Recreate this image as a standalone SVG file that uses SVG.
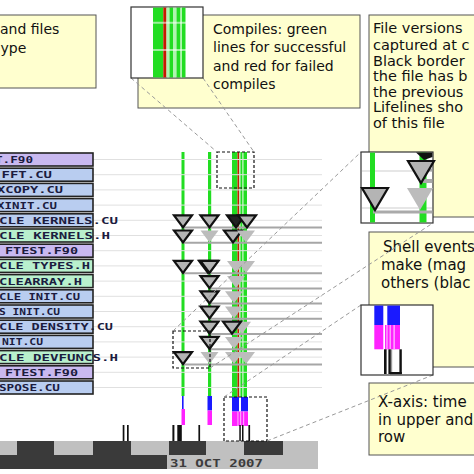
<svg xmlns="http://www.w3.org/2000/svg" width="474" height="474" viewBox="0 0 474 474">
<style>
.call{fill:#ffffcf;stroke:#555;stroke-width:1}
.ct{font-family:"DejaVu Sans",sans-serif;font-size:14px;fill:#111}
.ct2{font-family:"DejaVu Sans",sans-serif;font-size:15px;fill:#111}
.ct3{font-family:"DejaVu Sans",sans-serif;font-size:14.5px;fill:#111}
.lbl{stroke:#222;stroke-width:1.6}
.pu{fill:#c9b9f0}.bl{fill:#b9cdf0}.gr{fill:#b9f0cd}
.lt{font-family:"DejaVu Sans Mono",monospace;font-weight:bold;font-size:9.5px;fill:#1c1c40}
.faint{stroke:#e0e0e0;stroke-width:1}
.gl{stroke:#a6a6a6;stroke-width:2}
.to{fill:#b4b4b4;stroke:#111;stroke-width:2.2;stroke-linejoin:miter}
.tg{fill:#bcbcbc}
.tb{fill:#222;stroke:#111;stroke-width:2.2}
.dr{fill:none;stroke:#111;stroke-width:1.2;stroke-dasharray:3 2}
.dc{stroke:#999;stroke-width:1;stroke-dasharray:4 3;fill:none}
.g{fill:#22dd22}.r{fill:#c41a00}.pg{fill:#b0f4b0}
.b{fill:#1a1aff}.m{fill:#ff22ff}.pm{fill:#ff9cff}.k{fill:#111}
.inset{fill:#fff;stroke:#333;stroke-width:1.2}
</style>
<defs>
<path id="tri" d="M-9,-5 L9,-5 L0,7 Z"/>
<path id="triL" d="M-13,-11 L13,-11 L0,11 Z"/>
</defs>
<rect width="474" height="474" fill="#fff"/>

<g id="lifelines">
<rect class="g" x="181.5" y="152" width="3" height="244"/>
<rect class="g" x="208" y="152" width="3.2" height="244"/>
<rect class="g" x="232" y="152" width="5.5" height="245"/>
<rect class="r" x="237.5" y="152" width="1.8" height="245"/>
<rect class="pg" x="239.3" y="152" width="1.2" height="245"/>
<rect class="g" x="240.5" y="152" width="2" height="245"/>
<rect class="pg" x="242.5" y="152" width="1" height="245"/>
<rect class="g" x="243.5" y="152" width="3.5" height="245"/>
</g>

<g id="rowlines">
<line class="faint" x1="93" y1="159.5" x2="322" y2="159.5"/>
<line class="faint" x1="93" y1="174.7" x2="322" y2="174.7"/>
<line class="faint" x1="93" y1="189.9" x2="322" y2="189.9"/>
<line class="faint" x1="93" y1="205.1" x2="322" y2="205.1"/>
<line class="faint" x1="93" y1="220.3" x2="322" y2="220.3"/>
<line class="faint" x1="93" y1="235.5" x2="322" y2="235.5"/>
<line class="faint" x1="93" y1="250.7" x2="322" y2="250.7"/>
<line class="faint" x1="93" y1="265.9" x2="322" y2="265.9"/>
<line class="faint" x1="93" y1="281.1" x2="322" y2="281.1"/>
<line class="faint" x1="93" y1="296.3" x2="322" y2="296.3"/>
<line class="faint" x1="93" y1="311.5" x2="322" y2="311.5"/>
<line class="faint" x1="93" y1="326.7" x2="322" y2="326.7"/>
<line class="faint" x1="93" y1="341.9" x2="322" y2="341.9"/>
<line class="faint" x1="93" y1="357.1" x2="322" y2="357.1"/>
<line class="faint" x1="93" y1="372.3" x2="322" y2="372.3"/>
<line class="faint" x1="93" y1="387.5" x2="322" y2="387.5"/>
</g>

<g id="labels">
<g id="f1"><rect class="lbl pu" x="-3" y="153" width="96" height="13"/><text class="lt" x="-5" y="163" textLength="38" lengthAdjust="spacingAndGlyphs">T.F90</text></g>
<g id="f2"><rect class="lbl bl" x="-3" y="168.2" width="96" height="13"/><text class="lt" x="1.5" y="178.2" textLength="50.5" lengthAdjust="spacingAndGlyphs">FFT.CU</text></g>
<g id="f3"><rect class="lbl bl" x="-3" y="183.4" width="96" height="13"/><text class="lt" x="-3" y="193.4" textLength="66" lengthAdjust="spacingAndGlyphs">XCOPY.CU</text></g>
<g id="f4"><rect class="lbl bl" x="-3" y="198.6" width="96" height="13"/><text class="lt" x="-3" y="208.6" textLength="60" lengthAdjust="spacingAndGlyphs">XINIT.CU</text></g>
<g id="f5"><rect class="lbl bl" x="-3" y="213.8" width="96" height="13"/><text class="lt" x="-1" y="223.8" textLength="119" lengthAdjust="spacingAndGlyphs">CLE KERNELS.CU</text></g>
<g id="f6"><rect class="lbl gr" x="-3" y="229" width="96" height="13"/><text class="lt" x="-1" y="239" textLength="111" lengthAdjust="spacingAndGlyphs">CLE KERNELS.H</text></g>
<g id="f7"><rect class="lbl pu" x="-3" y="244.2" width="96" height="13"/><text class="lt" x="5" y="254.2" textLength="73" lengthAdjust="spacingAndGlyphs">FTEST.F90</text></g>
<g id="f8"><rect class="lbl gr" x="-3" y="259.4" width="96" height="13"/><text class="lt" x="-1" y="269.4" textLength="91" lengthAdjust="spacingAndGlyphs">CLE TYPES.H</text></g>
<g id="f9"><rect class="lbl gr" x="-3" y="274.6" width="96" height="13"/><text class="lt" x="-1" y="284.6" textLength="83" lengthAdjust="spacingAndGlyphs">CLEARRAY.H</text></g>
<g id="f10"><rect class="lbl bl" x="-3" y="289.8" width="96" height="13"/><text class="lt" x="-1" y="299.8" textLength="81" lengthAdjust="spacingAndGlyphs">CLE INIT.CU</text></g>
<g id="f11"><rect class="lbl bl" x="-3" y="305" width="96" height="13"/><text class="lt" x="-1" y="315" textLength="61" lengthAdjust="spacingAndGlyphs">S INIT.CU</text></g>
<g id="f12"><rect class="lbl bl" x="-3" y="320.2" width="96" height="13"/><text class="lt" x="-1" y="330.2" textLength="114" lengthAdjust="spacingAndGlyphs">CLE DENSITY.CU</text></g>
<g id="f13"><rect class="lbl bl" x="-3" y="335.4" width="96" height="13"/><text class="lt" x="2" y="345.4" textLength="41" lengthAdjust="spacingAndGlyphs">NIT.CU</text></g>
<g id="f14"><rect class="lbl gr" x="-3" y="350.6" width="96" height="13"/><text class="lt" x="-1" y="360.6" textLength="119" lengthAdjust="spacingAndGlyphs">CLE DEVFUNCS.H</text></g>
<g id="f15"><rect class="lbl pu" x="-3" y="365.8" width="96" height="13"/><text class="lt" x="5" y="375.8" textLength="73" lengthAdjust="spacingAndGlyphs">FTEST.F90</text></g>
<g id="f16"><rect class="lbl bl" x="-3" y="381" width="96" height="13"/><text class="lt" x="-1" y="391" textLength="61" lengthAdjust="spacingAndGlyphs">SPOSE.CU</text></g>
</g>

<g id="versionlines">
<line class="gl" x1="183" y1="227.6" x2="322" y2="227.6"/>
<line class="gl" x1="183" y1="242.8" x2="322" y2="242.8"/>
<line class="gl" x1="183" y1="273.2" x2="322" y2="273.2"/>
<line class="gl" x1="209.5" y1="288.4" x2="322" y2="288.4"/>
<line class="gl" x1="209.5" y1="303.6" x2="322" y2="303.6"/>
<line class="gl" x1="209.5" y1="318.8" x2="322" y2="318.8"/>
<line class="gl" x1="209.5" y1="334" x2="322" y2="334"/>
<line class="gl" x1="209.5" y1="349.2" x2="322" y2="349.2"/>
<line class="gl" x1="183" y1="364.4" x2="322" y2="364.4"/>
</g>

<g id="versions">
<use href="#tri" class="to" x="183" y="220.3"/>
<use href="#tri" class="to" x="209.5" y="220.3"/>
<use href="#tri" class="tb" x="236" y="220.3"/>
<use href="#tri" class="to" x="247" y="220.3"/>
<use href="#tri" class="to" x="183" y="235.5"/>
<use href="#tri" class="tg" x="209.5" y="235.5"/>
<use href="#tri" class="to" x="233" y="235.5"/>
<use href="#tri" class="tg" x="246" y="235.5"/>
<use href="#tri" class="to" x="183" y="265.9"/>
<use href="#tri" class="to" x="208" y="265.9"/>
<use href="#tri" class="to" x="209.5" y="265.9"/>
<use href="#tri" class="tg" x="236" y="265.9"/>
<use href="#tri" class="tg" x="246" y="265.9"/>
<use href="#tri" class="to" x="209.5" y="281.1"/>
<use href="#tri" class="tg" x="236" y="281.1"/>
<use href="#tri" class="to" x="209.5" y="296.3"/>
<use href="#tri" class="tg" x="234" y="296.3"/>
<use href="#tri" class="to" x="209.5" y="311.5"/>
<use href="#tri" class="tg" x="234" y="311.5"/>
<use href="#tri" class="tg" x="242" y="326.7"/>
<use href="#tri" class="to" x="209.5" y="326.7"/>
<use href="#tri" class="to" x="232" y="326.7"/>
<use href="#tri" class="to" x="209.5" y="341.9"/>
<use href="#tri" class="tg" x="234" y="341.9"/>
<use href="#tri" class="to" x="183" y="357.1"/>
<use href="#tri" class="tg" x="209.5" y="357.1"/>
<use href="#tri" class="tg" x="234" y="357.1"/>
<use href="#tri" class="tg" x="246" y="357.1"/>
</g>

<g id="shell">
<rect class="b" x="182" y="396" width="1.6" height="13"/>
<rect class="m" x="181.5" y="409" width="3.5" height="16"/>
<rect class="b" x="207.5" y="396" width="4.5" height="14.5"/>
<rect class="m" x="207.5" y="410.5" width="4.5" height="14.5"/>
<rect class="b" x="232" y="397" width="7" height="14.5"/>
<rect class="b" x="241" y="397" width="7" height="14.5"/>
<rect class="m" x="232" y="411.5" width="16" height="14.5"/>
<rect class="pm" x="237.3" y="411.5" width="1.2" height="14.5"/>
<rect class="pm" x="240" y="411.5" width="1.2" height="14.5"/>
<rect class="pm" x="243" y="411.5" width="1.2" height="14.5"/>
<rect class="k" x="122.7" y="425" width="1.7" height="16"/>
<rect class="k" x="127" y="425" width="1.7" height="16"/>
<rect class="k" x="172.4" y="425" width="2" height="16"/>
<rect class="k" x="177.3" y="425" width="4.5" height="16"/>
<rect class="k" x="198.4" y="425" width="1.7" height="16"/>
<rect class="k" x="239.3" y="425" width="1.5" height="16"/>
<rect class="k" x="242" y="425" width="1.5" height="16"/>
<rect class="k" x="248.4" y="425" width="1.7" height="16"/>
</g>

<g id="timeline">
<rect x="0" y="441" width="318" height="28" fill="#c0c0c0"/>
<rect x="0" y="455" width="167" height="14" fill="#3a3a3a"/>
<rect x="17" y="441" width="37" height="14" fill="#3a3a3a"/>
<rect x="93" y="441" width="38" height="14" fill="#3a3a3a"/>
<rect x="169" y="441" width="37" height="14" fill="#3a3a3a"/>
<rect x="244" y="441" width="39" height="14" fill="#3a3a3a"/>
<text x="170" y="467" font-family="DejaVu Sans Mono, monospace" font-weight="bold" font-size="10" fill="#3c3c3c" textLength="93" lengthAdjust="spacingAndGlyphs">31 OCT 2007</text>
</g>

<g id="zoomrects">
<rect class="dr" x="217" y="152" width="37" height="36"/>
<rect class="dr" x="173" y="331" width="37" height="37"/>
<rect class="dr" x="224" y="397" width="43" height="44"/>
</g>

<g id="callout-files">
<rect class="call" x="-1" y="15" width="97" height="73"/>
<text class="ct" x="0" y="33.5">and files</text>
<text class="ct" x="0.5" y="52.5">ype</text>
</g>

<g id="callout-compiles">
<rect class="call" x="138" y="15" width="222" height="93"/>
<text class="ct" x="213" y="33.5">Compiles: green</text>
<text class="ct" x="213" y="52">lines for successful</text>
<text class="ct" x="213" y="70.5">and red for failed</text>
<text class="ct" x="213" y="89">compiles</text>
</g>

<g id="callout-versions">
<rect class="call" x="369" y="15" width="110" height="202"/>
<text class="ct3" x="373" y="33">File versions</text>
<text class="ct3" x="373" y="49.5">captured at c</text>
<text class="ct3" x="373" y="65.5">Black border</text>
<text class="ct3" x="373" y="81">the file has b</text>
<text class="ct3" x="373" y="96.5">the previous</text>
<text class="ct3" x="373" y="112">Lifelines sho</text>
<text class="ct3" x="373" y="127.5">of this file</text>
</g>

<g id="callout-shell">
<rect class="call" x="369" y="232" width="110" height="135"/>
<text class="ct2" x="383" y="252">Shell events</text>
<text class="ct2" x="381" y="270">make (mag</text>
<text class="ct2" x="381" y="288">others (blac</text>
</g>

<g id="callout-xaxis">
<rect class="call" x="369" y="383" width="110" height="72"/>
<text class="ct2" x="378" y="407">X-axis: time</text>
<text class="ct2" x="378" y="425">in upper and</text>
<text class="ct2" x="378" y="442">row</text>
</g>

<g id="connectors">
<line class="dc" x1="131" y1="78" x2="217" y2="152"/>
<line class="dc" x1="203" y1="78" x2="254" y2="152"/>
<line class="dc" x1="173" y1="331" x2="361" y2="152"/>
<line class="dc" x1="210" y1="368" x2="433" y2="223"/>
<line class="dc" x1="224" y1="397" x2="361" y2="305"/>
<line class="dc" x1="267" y1="441" x2="433" y2="375"/>
</g>

<g id="inset-compiles">
<rect class="inset" x="131" y="7" width="72" height="71"/>
<rect class="g" x="153" y="7.6" width="10.3" height="69.8"/>
<rect class="r" x="163.3" y="7.6" width="3.2" height="69.8"/>
<rect class="pg" x="166.5" y="7.6" width="3" height="69.8"/>
<rect class="g" x="169.5" y="7.6" width="3.5" height="69.8"/>
<rect class="pg" x="173" y="7.6" width="3.5" height="69.8"/>
<rect class="g" x="176.5" y="7.6" width="4" height="69.8"/>
<rect class="pg" x="180.5" y="7.6" width="1.5" height="69.8"/>
<rect class="g" x="182" y="7.6" width="3.5" height="69.8"/>
<line x1="132" y1="22.7" x2="202" y2="22.7" stroke="#fff" stroke-opacity="0.55" stroke-width="2"/>
<line x1="132" y1="50" x2="202" y2="50" stroke="#fff" stroke-opacity="0.55" stroke-width="2"/>
</g>

<g id="inset-versions">
<rect class="inset" x="361" y="152" width="72" height="71"/>
<line x1="362" y1="171" x2="432" y2="171" stroke="#e6e6e6" stroke-width="2"/>
<line x1="362" y1="208" x2="432" y2="208" stroke="#e6e6e6" stroke-width="2"/>
<rect class="g" x="370" y="152.6" width="5" height="69.8"/>
<rect class="g" x="419.5" y="152.6" width="7" height="69.8"/>
<line x1="418" y1="170" x2="432.4" y2="170" stroke="#aaa" stroke-width="3"/>
<line x1="423" y1="181" x2="432.4" y2="181" stroke="#aaa" stroke-width="4"/>
<line x1="373" y1="212" x2="432.4" y2="212" stroke="#aaa" stroke-width="3"/>
<path d="M416,152.6 L432.4,152.6 L432.4,157 L424,160 Z" fill="#111"/>
<use href="#triL" class="tg" x="420" y="199"/>
<use href="#triL" class="to" x="421" y="172"/>
<use href="#triL" class="to" x="375" y="199"/>
</g>

<g id="inset-shell">
<rect class="inset" x="361" y="305" width="72" height="70"/>
<rect class="b" x="374.3" y="305.6" width="9" height="19.4"/>
<rect class="b" x="387.3" y="305.6" width="12.7" height="19.4"/>
<rect class="m" x="374.3" y="325" width="9" height="24.3"/>
<rect class="m" x="385" y="325" width="15" height="24.3"/>
<rect class="pm" x="386.2" y="325" width="1.5" height="24.3"/>
<rect class="pm" x="389.5" y="325" width="1.5" height="24.3"/>
<rect class="pm" x="393.3" y="325" width="1.7" height="24.3"/>
<rect class="k" x="384" y="349.3" width="2.6" height="24.7"/>
<rect class="k" x="388.4" y="349.3" width="2.4" height="24.7"/>
<rect x="391" y="349.3" width="1.2" height="24" fill="#999"/>
<rect class="k" x="399.4" y="349.3" width="2.4" height="24.7"/>
<rect class="k" x="390" y="372" width="11.8" height="2.2"/>
</g>
</svg>
